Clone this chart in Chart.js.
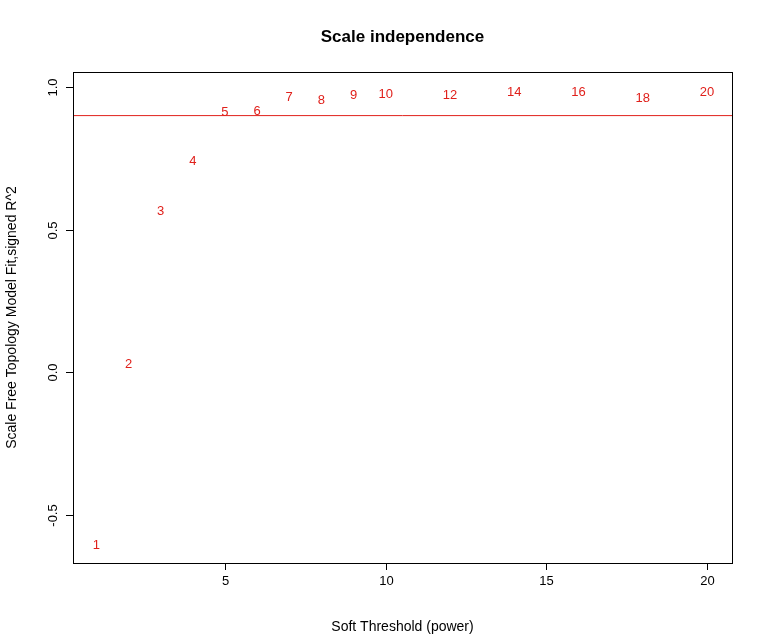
<!DOCTYPE html>
<html>
<head>
<meta charset="utf-8">
<script src="https://cdn.jsdelivr.net/npm/chart.js@4"></script>
<style>
  body { margin: 0; background: #fff; }
  #wrap { width: 759px; height: 642px; }
</style>
</head>
<body>
<div id="wrap"><canvas id="c" width="759" height="642"></canvas></div>
<script>
// ---- Data ----
const powers = [1, 2, 3, 4, 5, 6, 7, 8, 9, 10, 12, 14, 16, 18, 20];
const signedR2 = [-0.61, 0.028, 0.565, 0.74, 0.91, 0.915, 0.965, 0.955, 0.97, 0.975, 0.97, 0.98, 0.98, 0.96, 0.98];
const xTicks = [5, 10, 15, 20];
const yTicks = [-0.5, 0.0, 0.5, 1.0];
const cutoff = 0.9;

const FONT = "'Liberation Sans', Arial, sans-serif";

// R-like base graphics drawn on top of the library scales
const rBase = {
  id: "rBase",
  afterDatasetsDraw(chart) {
    const { ctx, chartArea: a, scales: { x, y } } = chart;
    ctx.save();
    // cutoff line
    ctx.strokeStyle = "#e0201b";
    ctx.lineWidth = 1;
    ctx.beginPath();
    ctx.moveTo(a.left, y.getPixelForValue(cutoff));
    ctx.lineTo(a.right, y.getPixelForValue(cutoff));
    ctx.stroke();

    // point labels
    ctx.fillStyle = "#e0201b";
    ctx.font = "13px " + FONT;
    ctx.textAlign = "center";
    ctx.textBaseline = "middle";
    powers.forEach((p, i) => {
      ctx.fillText(String(p), x.getPixelForValue(p), y.getPixelForValue(signedR2[i]));
    });

    // box
    ctx.strokeStyle = "#000";
    ctx.strokeRect(a.left + 0.5, a.top + 0.5, a.right - a.left, a.bottom - a.top);

    // x ticks
    ctx.fillStyle = "#000";
    ctx.font = "13px " + FONT;
    ctx.textBaseline = "top";
    xTicks.forEach(t => {
      const px = Math.round(x.getPixelForValue(t)) + 0.5;
      ctx.beginPath(); ctx.moveTo(px, a.bottom); ctx.lineTo(px, a.bottom + 7); ctx.stroke();
      ctx.fillText(String(t), px, a.bottom + 12);
    });

    // y ticks (rotated labels)
    yTicks.forEach(t => {
      const py = Math.round(y.getPixelForValue(t)) + 0.5;
      ctx.beginPath(); ctx.moveTo(a.left, py); ctx.lineTo(a.left - 7, py); ctx.stroke();
      ctx.save();
      ctx.translate(a.left - 20, py);
      ctx.rotate(-Math.PI / 2);
      ctx.textBaseline = "middle";
      ctx.fillText(t.toFixed(1), 0, 0);
      ctx.restore();
    });

    // titles
    ctx.font = "bold 17px " + FONT;
    ctx.textBaseline = "middle";
    ctx.fillText("Scale independence", (a.left + a.right) / 2, 37);
    ctx.font = "14px " + FONT;
    ctx.fillText("Soft Threshold (power)", (a.left + a.right) / 2, 627);
    ctx.save();
    ctx.translate(12, (a.top + a.bottom) / 2);
    ctx.rotate(-Math.PI / 2);
    ctx.fillText("Scale Free Topology Model Fit,signed R^2", 0, 0);
    ctx.restore();
    ctx.restore();
  }
};

new Chart(document.getElementById("c"), {
  type: "scatter",
  data: {
    datasets: [{
      data: powers.map((p, i) => ({ x: p, y: signedR2[i] })),
      pointRadius: 0
    }]
  },
  options: {
    responsive: false,
    animation: false,
    layout: { padding: { left: 73, right: 27, top: 72, bottom: 79 } },
    plugins: { legend: { display: false }, tooltip: { enabled: false } },
    scales: {
      x: { type: "linear", min: 0.27, max: 20.78, display: false },
      y: { type: "linear", min: -0.67, max: 1.053, display: false }
    }
  },
  plugins: [rBase]
});
</script>
</body>
</html>
